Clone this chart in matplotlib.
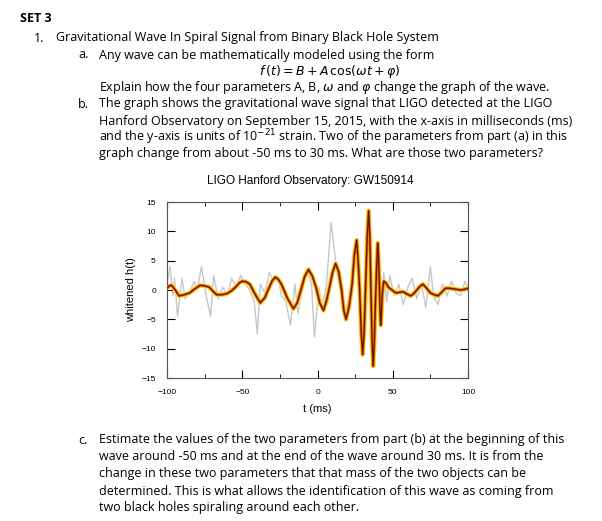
import matplotlib
matplotlib.use("Agg")
import matplotlib.pyplot as plt

# wave (signal) extrema and crossings
t_sig = [-100, -98.5, -97, -94.5, -92, -88.5, -85, -81.5, -78, -75, -72, -69.5, -67, -63.5, -60, -57, -54, -52, -50, -47.5, -45, -41.5, -38, -35, -32, -30, -28, -26, -24, -20, -16, -13.5, -11, -8.5, -6, -3.5, -1, 1.5, 4, 6, 8, 10, 12, 14, 16, 17.5, 19, 21, 23, 24.5, 26, 27, 28, 29, 30, 31, 32, 33, 34, 34.8, 35.5, 36.3, 37, 37.8, 38.5, 39.3, 40, 40.5, 41, 41.5, 42, 42.5, 43, 43.5, 44, 45.5, 47, 49.5, 52, 54.5, 57, 59.5, 62, 64, 66, 68, 70, 72.5, 75, 77.5, 80, 82.5, 85, 87.5, 90, 92.5, 95, 97.5, 100]
h_sig = [0.3, 0.7, 0.8, 0.0, -1.0, -0.8, -0.5, 0.2, 0.8, 0.7, 0.5, -0.2, -0.8, -0.8, -0.6, -0.1, 0.6, 1.2, 1.5, 1.4, 1.0, -0.7, -2.2, -1.3, 0.5, 1.6, 2.2, 1.8, 1.0, -1.4, -3.2, -2.2, 0.0, 2.3, 3.5, 2.4, 0.5, -2.2, -3.5, -1.8, 0.5, 3.0, 4.5, 3.2, 0.0, -3.5, -5.0, -2.8, 1.0, 6.0, 8.5, 5.0, 0.0, -7.0, -11.0, -7.0, 1.0, 9.0, 13.5, 9.0, 0.0, -9.0, -13.0, -8.5, -2.0, 4.0, 8.0, 6.0, 2.0, -3.0, -6.0, -4.0, -1.0, 0.5, 1.5, 1.2, 0.5, 0.0, -0.5, -0.4, -0.3, -0.7, -1.0, -0.6, 0.0, 0.6, 1.0, 0.3, -0.5, -0.8, -1.0, -0.4, 0.3, 0.3, 0.2, 0.1, 0.0, 0.1, 0.3]
# noisy raw data (grey)
t_raw = [-100, -98, -96, -95, -93, -90, -88, -85, -82, -80, -77, -74, -71, -69, -66, -63, -60, -57, -54, -51, -48, -45, -42, -40, -38, -35, -32, -29, -26, -24, -21, -18, -15, -13, -10, -7, -4, -2, 1, 3, 6, 9, 12, 15, 18, 21, 24, 26, 28, 30, 32, 34, 36, 37, 39, 40, 42, 44, 46, 48, 51, 54, 57, 60, 63, 66, 69, 72, 75, 77, 80, 83, 86, 89, 92, 95, 98, 100]
h_raw = [1.0, 4.0, -1.0, 2.0, -4.5, 2.0, -1.5, -0.5, 1.5, 0.0, 4.0, -1.0, -4.5, 2.5, -1.5, 0.5, -1.0, 2.0, 0.5, 2.5, 1.0, 0.0, -2.0, -7.5, 1.0, -0.5, 3.0, 1.5, 2.0, -1.0, -2.0, -6.0, 1.0, -4.0, 0.5, 3.5, 1.0, -8.0, 0.5, -3.0, 1.0, 11.5, 5.0, 0.5, -4.5, -1.0, 3.0, 8.0, 0.0, -11.0, 1.5, 13.5, -1.0, -13.0, 3.0, 8.0, -6.0, 3.0, -2.0, 2.5, -1.0, 1.0, -2.5, 0.5, 2.0, -1.5, 1.0, -3.0, 4.0, -1.0, -2.5, 1.0, -1.0, 1.5, -0.5, -1.0, 1.5, 0.5]

fig = plt.figure(figsize=(6.02, 5.21), dpi=100)
F = "Open Sans"
W, H = 602, 521
def T(x, y, s, **kw):
    kw.setdefault("fontsize", 9.0)
    kw.setdefault("family", F)
    fig.text(x / W, 1 - y / H, s, va="center", **kw)

T(20, 18, "SET 3", weight="bold")
T(34, 38, "1.")
T(56, 38, "Gravitational Wave In Spiral Signal from Binary Black Hole System")
T(78, 55, "a.")
T(99, 55, "Any wave can be mathematically modeled using the form")
T(330, 71, r"$f\,(t) = B + A\,\cos(\omega t + \varphi)$", ha="center", family="DejaVu Serif", fontsize=9)
T(99, 87, r"Explain how the four parameters A, B, $\omega$ and $\varphi$ change the graph of the wave.")
T(78, 104, "b.")
T(99, 104, "The graph shows the gravitational wave signal that LIGO detected at the LIGO")
T(99, 121, "Hanford Observatory on September 15, 2015, with the x-axis in milliseconds (ms)")
T(99, 137, "and the y-axis is units of 10$^{-21}$ strain. Two of the parameters from part (a) in this")
T(99, 154, "graph change from about -50 ms to 30 ms. What are those two parameters?")
T(78, 440, "c.")
T(99, 440, "Estimate the values of the two parameters from part (b) at the beginning of this")
T(99, 457, "wave around -50 ms and at the end of the wave around 30 ms. It is from the")
T(99, 474, "change in these two parameters that that mass of the two objects can be")
T(99, 491, "determined. This is what allows the identification of this wave as coming from")
T(99, 508, "two black holes spiraling around each other.")

T(310, 181, "LIGO Hanford Observatory: GW150914", ha="center", family="Liberation Sans", fontsize=8.5)

ax = fig.add_axes([167 / W, 1 - 378 / H, (468 - 167) / W, (378 - 202) / H])
ax.plot(t_raw, h_raw, color="#c8c8c8", lw=1.0, zorder=1)
ax.plot(t_sig, h_sig, color="#ffe060", lw=3.5, zorder=2, solid_joinstyle="round")
ax.plot(t_sig, h_sig, color="#f08000", lw=2.2, zorder=3, solid_joinstyle="round")
ax.plot(t_sig, h_sig, color="#6a1500", lw=1.0, zorder=4, solid_joinstyle="round")
ax.set_xlim(-100, 100)
ax.set_ylim(-15, 15)
ax.set_xticks([-100, -50, 0, 50, 100])
ax.set_yticks([-15, -10, -5, 0, 5, 10, 15])
ax.set_xticks(range(-100, 101, 25), minor=True)
ax.set_yticks(range(-15, 16, 5), minor=True)
ax.tick_params(direction="in", top=True, right=True, labelsize=6, length=6, width=0.8, which="major", pad=8)
ax.tick_params(direction="in", top=True, right=True, length=3, which="minor")
for s in ax.spines.values():
    s.set_color("#555555")
for lab in ax.get_xticklabels() + ax.get_yticklabels():
    lab.set_family("Liberation Sans")
ax.set_xlabel("t (ms)", family="Liberation Sans", fontsize=8, labelpad=6)
ax.set_ylabel("whitened h(t)", family="Liberation Sans", fontsize=8, labelpad=4)
fig.savefig("out.png", dpi=100)
